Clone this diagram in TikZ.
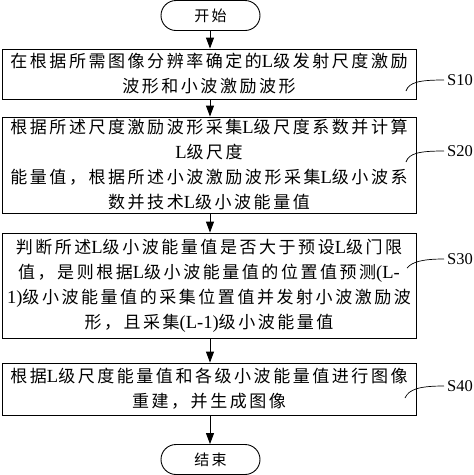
\documentclass[tikz,border=0pt]{standalone}
\usepackage{fontspec}
\setmainfont{Liberation Serif}
\newfontfamily\cjkf[LetterSpace=15]{Noto Sans CJK SC}
\newfontfamily\latf{Liberation Serif}
\newcommand\lt[1]{{\latf\fontsize{18.5}{25}\selectfont #1}}
\usetikzlibrary{arrows.meta}
\begin{document}
\begin{tikzpicture}[x=1pt,y=-1pt,
  box/.style={draw, line width=0.9pt, minimum width=414pt, align=center, inner sep=0pt,
    font=\fontsize{17}{25}\selectfont\cjkf},
  term/.style={draw, line width=0.9pt, rounded corners=15pt, minimum width=99pt,
    minimum height=30pt, inner sep=0pt, font=\fontsize{15}{18}\selectfont\cjkf},
  arr/.style={-{Triangle[length=11pt,width=8pt]}, line width=0.9pt},
  lab/.style={font=\fontsize{16.5}{18}\selectfont\latf, anchor=west, inner sep=0pt},
  lead/.style={line width=0.7pt}]
\useasboundingbox (0,0) rectangle (474,475);

\node[term] (start) at (210.5,15.5) {开始};
\node[box, minimum height=50pt] (s10) at (209,74)
  {在根据所需图像分辨率确定的\lt{L}级发射尺度激励\\波形和小波激励波形};
\node[box, minimum height=96pt] (s20) at (209,165)
  {根据所述尺度激励波形采集\lt{L}级尺度系数并计算\\\lt{L}级尺度\\能量值，根据所述小波激励波形采集\lt{L}级小波系\\数并技术\lt{L}级小波能量值};
\node[box, minimum height=105pt] (s30) at (209,285.5)
  {判断所述\lt{L}级小波能量值是否大于预设\lt{L}级门限\\值，是则根据\lt{L}级小波能量值的位置值预测\lt{(L-}\\\lt{1)}级小波能量值的采集位置值并发射小波激励波\\形，且采集\lt{(L-1)}级小波能量值};
\node[box, minimum height=52pt] (s40) at (209,389)
  {根据\lt{L}级尺度能量值和各级小波能量值进行图像\\重建，并生成图像};
\node[term] (end) at (210.5,459.5) {结束};

\draw[arr] ([xshift=-0.5pt]start.south) -- ([xshift=1pt]s10.north);
\draw[arr] ([xshift=1pt]s10.south) -- ([xshift=1pt]s20.north);
\draw[arr] ([xshift=1pt]s20.south) -- ([xshift=1pt]s30.north);
\draw[arr] ([xshift=1pt]s30.south) -- ([xshift=1pt]s40.north);
\draw[arr] ([xshift=1pt]s40.south) -- ([xshift=-0.5pt]end.north);

\node[lab] (l10) at (447,80) {S10};
\node[lab] (l20) at (447,151) {S20};
\node[lab] (l30) at (447,259) {S30};
\node[lab] (l40) at (447,386) {S40};

\coordinate (c10) at (406,91);
\coordinate (c20) at (406,162);
\coordinate (c30) at (407,268);
\coordinate (c40) at (405,398);

\draw[lead] (c10) .. controls (409,82) and (420,80) .. ([xshift=-3pt]l10.west);
\draw[lead] (c20) .. controls (409,153) and (420,151) .. ([xshift=-3pt]l20.west);
\draw[lead] (c30) .. controls (412,262) and (422,259) .. ([xshift=-3pt]l30.west);
\draw[lead] (c40) .. controls (409,389) and (420,386) .. ([xshift=-3pt]l40.west);
\end{tikzpicture}
\end{document}
